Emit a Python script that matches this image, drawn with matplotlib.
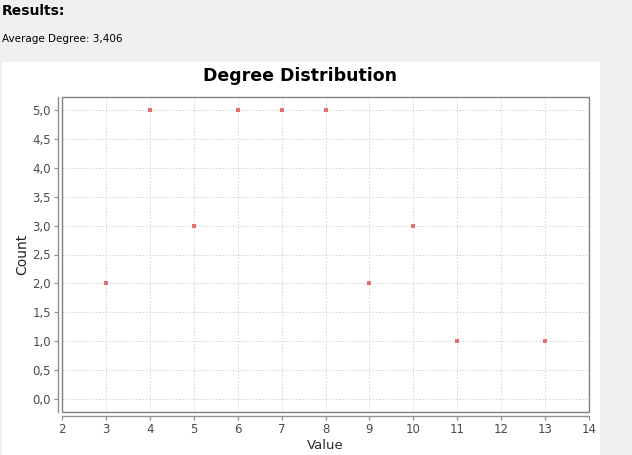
import matplotlib
matplotlib.use("Agg")
import matplotlib.pyplot as plt
from matplotlib.patches import Rectangle
from matplotlib.ticker import FuncFormatter

degree_values = [3, 4, 5, 6, 7, 8, 9, 10, 11, 13]
degree_counts = [2, 5, 3, 5, 5, 5, 2, 3, 1, 1]
x_ticks = list(range(2, 15))
y_ticks = [0, 0.5, 1, 1.5, 2, 2.5, 3, 3.5, 4, 4.5, 5]

W, H = 632, 455
fig = plt.figure(figsize=(W / 100, H / 100), dpi=100, facecolor="#f0f0f0")

# white chart panel
fig.patches.append(Rectangle((2 / W, 0), (600 - 2) / W, (H - 62) / H,
                             transform=fig.transFigure, facecolor="white",
                             edgecolor="none", zorder=-10))

fig.text(2 / W, 1 - 11 / H, "Results:", fontsize=10, fontweight="bold",
         va="center", ha="left", color="black")
fig.text(2 / W, 1 - 39 / H, "Average Degree: 3,406", fontsize=7.5,
         va="center", ha="left", color="black")

left, right, top, bottom = 62, 589, 97, 412
ax = fig.add_axes([left / W, 1 - bottom / H, (right - left) / W, (bottom - top) / H])
ax.set_zorder(1)
ax.set_facecolor("white")

ax.plot(degree_values, degree_counts, linestyle="none", marker="s",
        markersize=2.4, color="#e07070", markeredgewidth=0, zorder=3)

ax.set_xlim(2, 14)
ax.set_ylim(-0.225, 5.225)
ax.set_xticks(x_ticks)
ax.set_yticks(y_ticks)
ax.yaxis.set_major_formatter(FuncFormatter(lambda v, p: f"{v:.1f}".replace(".", ",")))
ax.grid(True, color="#cfcfcf", linestyle=(0, (2, 2)), linewidth=0.6)
ax.set_axisbelow(True)

for s in ["top", "right"]:
    ax.spines[s].set_visible(False)
for s in ["left", "bottom"]:
    ax.spines[s].set_position(("outward", 3))
    ax.spines[s].set_color("#909090")
    ax.spines[s].set_linewidth(1.0)

ax.add_patch(Rectangle((0, 0), 1, 1, transform=ax.transAxes, fill=False,
                       edgecolor="#808080", linewidth=1.0, clip_on=False, zorder=4))

ax.tick_params(axis="both", colors="#909090", labelcolor="#4a4a4a",
               labelsize=8.5, length=3, width=0.8, pad=2)

ax.set_xlabel("Value", fontsize=9.5, color="#2a2a2a", labelpad=2)
ax.set_ylabel("Count", fontsize=10, color="#222222", labelpad=2)

fig.text(300 / W, 1 - 76 / H, "Degree Distribution", fontsize=12.5,
         fontweight="bold", ha="center", va="center", color="black")

fig.savefig("out.png", dpi=100, facecolor=fig.get_facecolor())
